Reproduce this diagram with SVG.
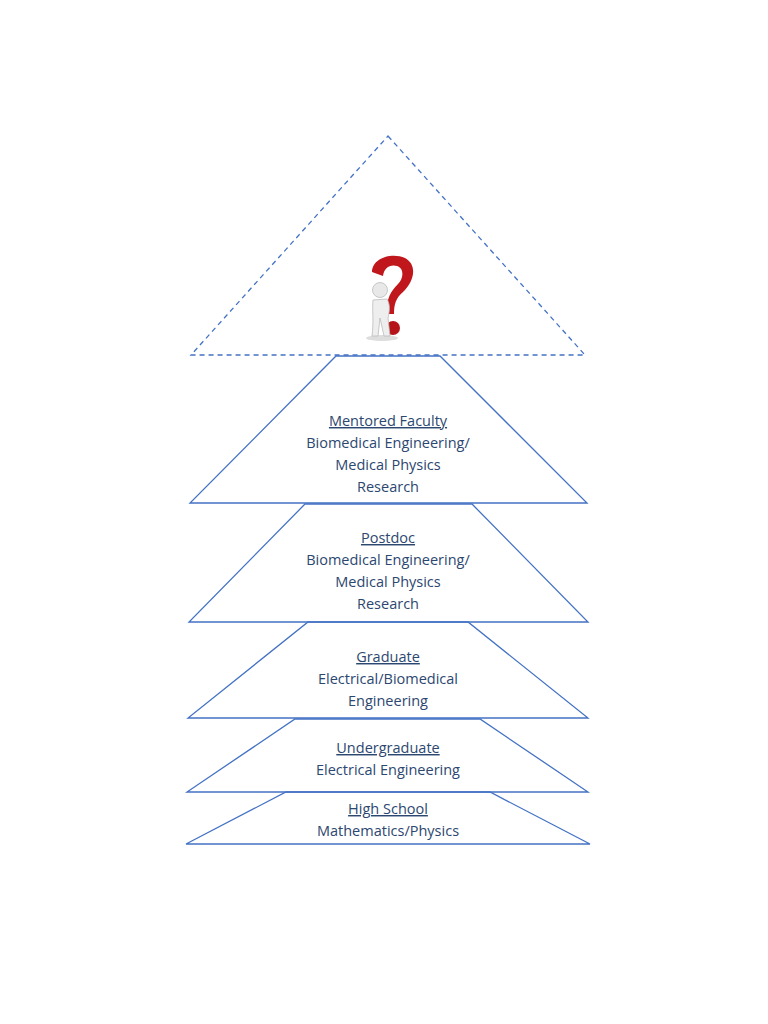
<svg xmlns="http://www.w3.org/2000/svg" width="768" height="1024" viewBox="0 0 768 1024">
<style>
.s{fill:none;stroke:#4472C4;stroke-width:1.3}
.d{fill:none;stroke:#4472C4;stroke-width:1.3;stroke-dasharray:5,4}
text{font-family:"Open Sans","Liberation Sans",sans-serif;font-size:14.5px;fill:#2C4770;text-anchor:middle}
.u{text-decoration:underline}
</style>
<rect width="768" height="1024" fill="#fff"/>
<g id="top">
<polygon class="d" points="388,136 585,355 191,355"/>
<g id="figure">
<path d="M372,272 C372,258 392,252 405,258 C418,265 414,282 403,292 C396,298 394,304 394,314 L387,314 C386,300 390,292 398,284 C404,278 404,268 397,266 C390,264 384,268 383,276 Z" fill="#C0171C"/>
<circle cx="393" cy="328" r="7" fill="#B5151A"/>
<ellipse cx="382" cy="338" rx="16" ry="3" fill="#ddd"/>
<circle cx="380" cy="290" r="7.5" fill="#e8e8e8" stroke="#bbb" stroke-width="0.8"/>
<path d="M373,300 C372,310 374,320 372,336 L378,336 L380,318 L384,336 L390,336 L388,318 C390,310 390,304 387,299 Z" fill="#eee" stroke="#bbb" stroke-width="0.8"/>
</g>
</g>
<g id="faculty">
<polygon class="s" points="336,356 440,356 587,503 190,503"/>
<text x="388" y="426" class="u">Mentored Faculty</text>
<text x="388" y="448">Biomedical Engineering/</text>
<text x="388" y="470">Medical Physics</text>
<text x="388" y="492">Research</text>
</g>
<g id="postdoc">
<polygon class="s" points="305,504 472,504 588,622 189,622"/>
<text x="388" y="543" class="u">Postdoc</text>
<text x="388" y="565">Biomedical Engineering/</text>
<text x="388" y="587">Medical Physics</text>
<text x="388" y="609">Research</text>
</g>
<g id="graduate">
<polygon class="s" points="308,622 468,622 588,718 188,718"/>
<text x="388" y="662" class="u">Graduate</text>
<text x="388" y="684">Electrical/Biomedical</text>
<text x="388" y="706">Engineering</text>
</g>
<g id="undergrad">
<polygon class="s" points="295,719 480,719 588,792 187,792"/>
<text x="388" y="753" class="u">Undergraduate</text>
<text x="388" y="775">Electrical Engineering</text>
</g>
<g id="highschool">
<polygon class="s" points="286,792 490,792 590,844 186,844"/>
<text x="388" y="814" class="u">High School</text>
<text x="388" y="836">Mathematics/Physics</text>
</g>
<g id="connectors"></g>
</svg>
